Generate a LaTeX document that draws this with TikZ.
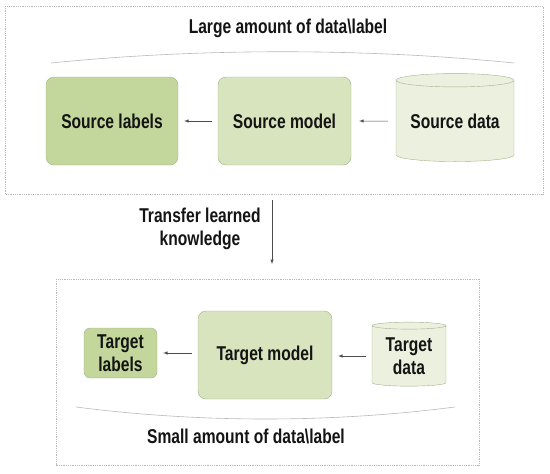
\documentclass[tikz,border=0pt]{standalone}
\usepackage{fontspec}
\setmainfont{Liberation Sans}[FakeStretch=0.78]
\usetikzlibrary{shapes.geometric}
\definecolor{lblfill}{RGB}{195,214,155}
\definecolor{mdlfill}{RGB}{215,228,189}
\definecolor{datfill}{RGB}{235,241,222}
\definecolor{boxline}{RGB}{165,176,145}
\definecolor{frameline}{RGB}{185,185,185}
\definecolor{txt}{RGB}{20,20,20}

\begin{document}
\begin{tikzpicture}[x=1pt,y=-1pt,
	font=\fontsize{20}{23.5}\selectfont\bfseries, text=txt,
	box/.style={draw=boxline,rounded corners=8pt,align=center,inner sep=0pt},
	store/.style={cylinder,shape border rotate=90,aspect=0.15,draw=boxline,fill=datfill,align=center,inner sep=0pt},
	frame/.style={draw=frameline,densely dotted,line width=0.8pt},
	bowl/.style={draw=gray!55,line width=0.6pt},
	flow/.style={-latex,draw=black!70,line width=0.5pt},
	gap/.style={shorten >=#1,shorten <=#1}]
		
		\useasboundingbox (0,0) rectangle (550,474);
		
		\draw[frame] (5,6) rectangle (543,194);
		\node (big) at (288,28) {Large amount of data\textbackslash label};
		\draw[bowl] (51,63) .. controls (200,48) and (365,48) .. (514,63);
		
		\node (smodel) at (284.5,121) [box,fill=mdlfill,minimum width=133,minimum height=88] {Source model};
		\node (slabels) [left of=smodel, node distance=172.5, box, fill=lblfill, minimum width=132, minimum height=88] {Source labels};
		\node (sdata) [right of=smodel, node distance=170.5, store, minimum width=118, minimum height=88] {Source data};
		\draw[flow,gap=6pt] (smodel) -- (slabels);
		\draw[flow,gap=8pt] (sdata) -- (smodel);
		
		\node (xfer) at (200,229) [align=center] {Transfer learned\\knowledge};
		\coordinate (from) at (272,200);
		\coordinate (to) at (272,264);
		\draw[flow] (from) -- (to);
		
		\draw[frame] (56,279) rectangle (479,465);
		\node (tmodel) at (265,355) [box,fill=mdlfill,minimum width=134,minimum height=88] {Target model};
		\node (tlabels) at (120.5,353) [box,fill=lblfill,minimum width=73,minimum height=50,rounded corners=6pt] {Target\\labels};
		\node (tdata) at (409,356) [store,minimum width=74,minimum height=64] {Target\\data};
		\draw[flow,gap=6pt] (tmodel.west |- tlabels.east) -- (tlabels.east);
		\draw[flow,gap=6pt] (tdata.west) -- (tmodel.east |- tdata.west);
		\draw[bowl] (76,407) .. controls (200,423) and (331,423) .. (455,407);
		\node (small) at (246,436) {Small amount of data\textbackslash label};
		
	\end{tikzpicture}
\end{document}
